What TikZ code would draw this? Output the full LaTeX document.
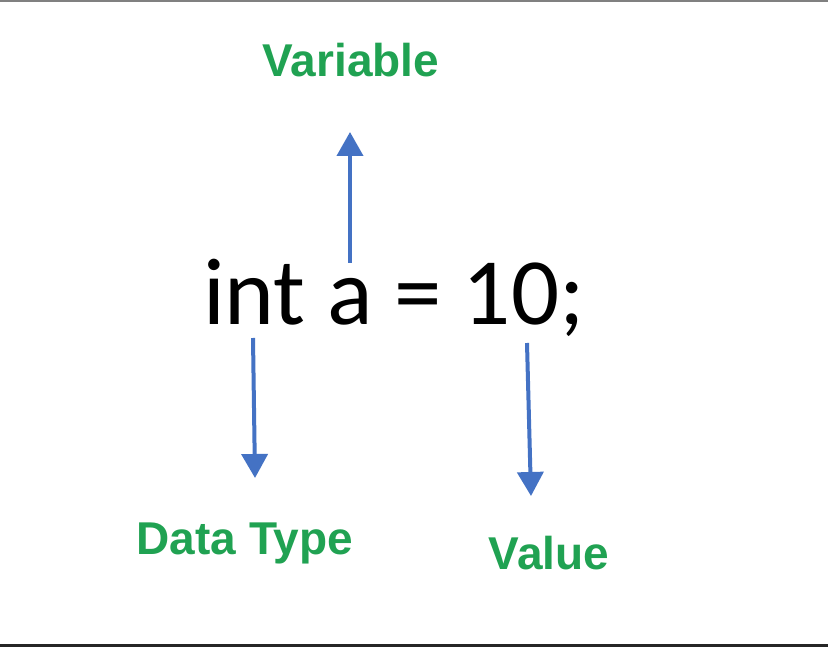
\documentclass[tikz,border=0pt]{standalone}
\usepackage{fontspec}
\setmainfont{Carlito}
\newfontfamily\labelfont{Liberation Sans}
\usetikzlibrary{arrows.meta}
\definecolor{arrowblue}{RGB}{68,114,196}
\definecolor{labelgreen}{RGB}{32,162,82}
\tikzset{
  codetext/.style={inner sep=0pt, anchor=base, font=\fontsize{95}{100}\selectfont, text=black},
  labeltext/.style={inner sep=0pt, anchor=base, font=\labelfont\bfseries\fontsize{46}{50}\selectfont, text=labelgreen},
  pointer/.style={draw=arrowblue, line width=4pt, -{Triangle[width=26pt,length=24pt]}}
}
\begin{document}
\begin{tikzpicture}[x=1pt,y=-1pt]
\useasboundingbox (0,0) rectangle (828,647);
\fill[white] (0,0) rectangle (828,647);
\draw[gray, line width=2pt] (0,1) -- (828,1);
\fill[black!85] (0,644) rectangle (828,647);
\node[codetext] (code) at (394,325) {int a = 10;};
\node[labeltext] (var) at (351,77) {Variable};
\node[labeltext] (dtype) at (245,554) {Data Type};
\node[labeltext] (val) at (549,569) {Value};
\coordinate (varS) at (350,263);
\coordinate (varE) at (350,132);
\coordinate (dtS) at (253,338);
\coordinate (dtE) at (255,478);
\coordinate (valS) at (527,343);
\coordinate (valE) at (531,496);
\draw[pointer] (varS) -- (varE);
\draw[pointer] (dtS) -- (dtE);
\draw[pointer] (valS) -- (valE);
\end{tikzpicture}
\end{document}
